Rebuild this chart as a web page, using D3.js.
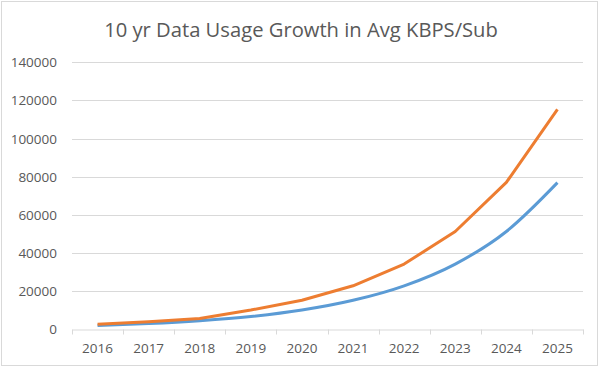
<!DOCTYPE html>
<html>
<head>
<meta charset="utf-8">
<script src="https://cdn.jsdelivr.net/npm/d3@7"></script>
<style>
  body { margin: 0; background: #fff; }
  text { font-family: "Open Sans", "Noto Sans", sans-serif; }
</style>
</head>
<body>
<svg class="chart"></svg>
<script>
// data
const years = ["2016", "2017", "2018", "2019", "2020", "2021", "2022", "2023", "2024", "2025"]
const blueValues = [2000, 3000, 4500, 6700, 10100, 15200, 22800, 34200, 51300, 76900]
const orangeValues = [2700, 4000, 5700, 10100, 15200, 22800, 34200, 51300, 77000, 115300]
const yTicks = [0, 20000, 40000, 60000, 80000, 100000, 120000, 140000]

const width = 601
const height = 369
const plotLeft = 72, plotRight = 583, plotTop = 62.3, plotBottom = 329.3

const svg = d3.select(".chart")
    .attr("width", width)
    .attr("height", height)

// outer border of the chart
svg.append("rect")
    .attr("x", 1.5).attr("y", 1.5)
    .attr("width", 596).attr("height", 364)
    .attr("fill", "#fff")
    .attr("stroke", "#d9d9d9")

svg.append("text")
    .attr("x", 301)
    .attr("y", 37)
    .attr("text-anchor", "middle")
    .style("font-size", "20.2px")
    .style("fill", "#595959")
    .text("10 yr Data Usage Growth in Avg KBPS/Sub")

const x = d3.scaleBand().domain(years).range([plotLeft, plotRight])
const y = d3.scaleLinear().domain([0, 140000]).range([plotBottom, plotTop])

// gridlines
svg.selectAll(".grid")
    .data(yTicks.slice(1))
    .enter()
    .append("line")
    .attr("x1", plotLeft)
    .attr("x2", plotRight)
    .attr("y1", d => Math.round(y(d)) + 0.5)
    .attr("y2", d => Math.round(y(d)) + 0.5)
    .attr("stroke", "#d9d9d9")

// y labels
svg.selectAll(".ylab")
    .data(yTicks)
    .enter()
    .append("text")
    .attr("x", 57)
    .attr("y", d => y(d) + 5)
    .attr("text-anchor", "end")
    .style("font-size", "13.5px")
    .style("fill", "#595959")
    .text(d => d)

// x axis
const xAxis = svg.append("g")
    .attr("transform", `translate(0,${Math.round(plotBottom) + 0.5})`)
    .call(d3.axisBottom(x).tickSize(0).tickPadding(14))
xAxis.select(".domain").attr("stroke", "#d9d9d9")
xAxis.selectAll("text")
    .style("font-size", "13.5px")
    .style("fill", "#595959")
    .style("font-family", "\"Open Sans\", sans-serif")

// tick marks between categories
const bounds = years.map(d => x(d)).concat([plotRight])
xAxis.selectAll(".sep")
    .data(bounds)
    .enter()
    .append("line")
    .attr("x1", d => Math.round(d) + 0.5)
    .attr("x2", d => Math.round(d) + 0.5)
    .attr("y1", 0)
    .attr("y2", 5)
    .attr("stroke", "#d9d9d9")

const cx = (d, i) => x(years[i]) + x.bandwidth() / 2

svg.append("path")
    .datum(blueValues)
    .attr("fill", "none")
    .attr("stroke", "#5b9bd5")
    .attr("stroke-width", 3)
    .attr("stroke-linejoin", "round")
    .attr("d", d3.line().x(cx).y(d => y(d)).curve(d3.curveMonotoneX))

svg.append("path")
    .datum(orangeValues)
    .attr("fill", "none")
    .attr("stroke", "#ed7d31")
    .attr("stroke-width", 3)
    .attr("stroke-linejoin", "round")
    .attr("d", d3.line().x(cx).y(d => y(d)))
</script>
</body>
</html>
